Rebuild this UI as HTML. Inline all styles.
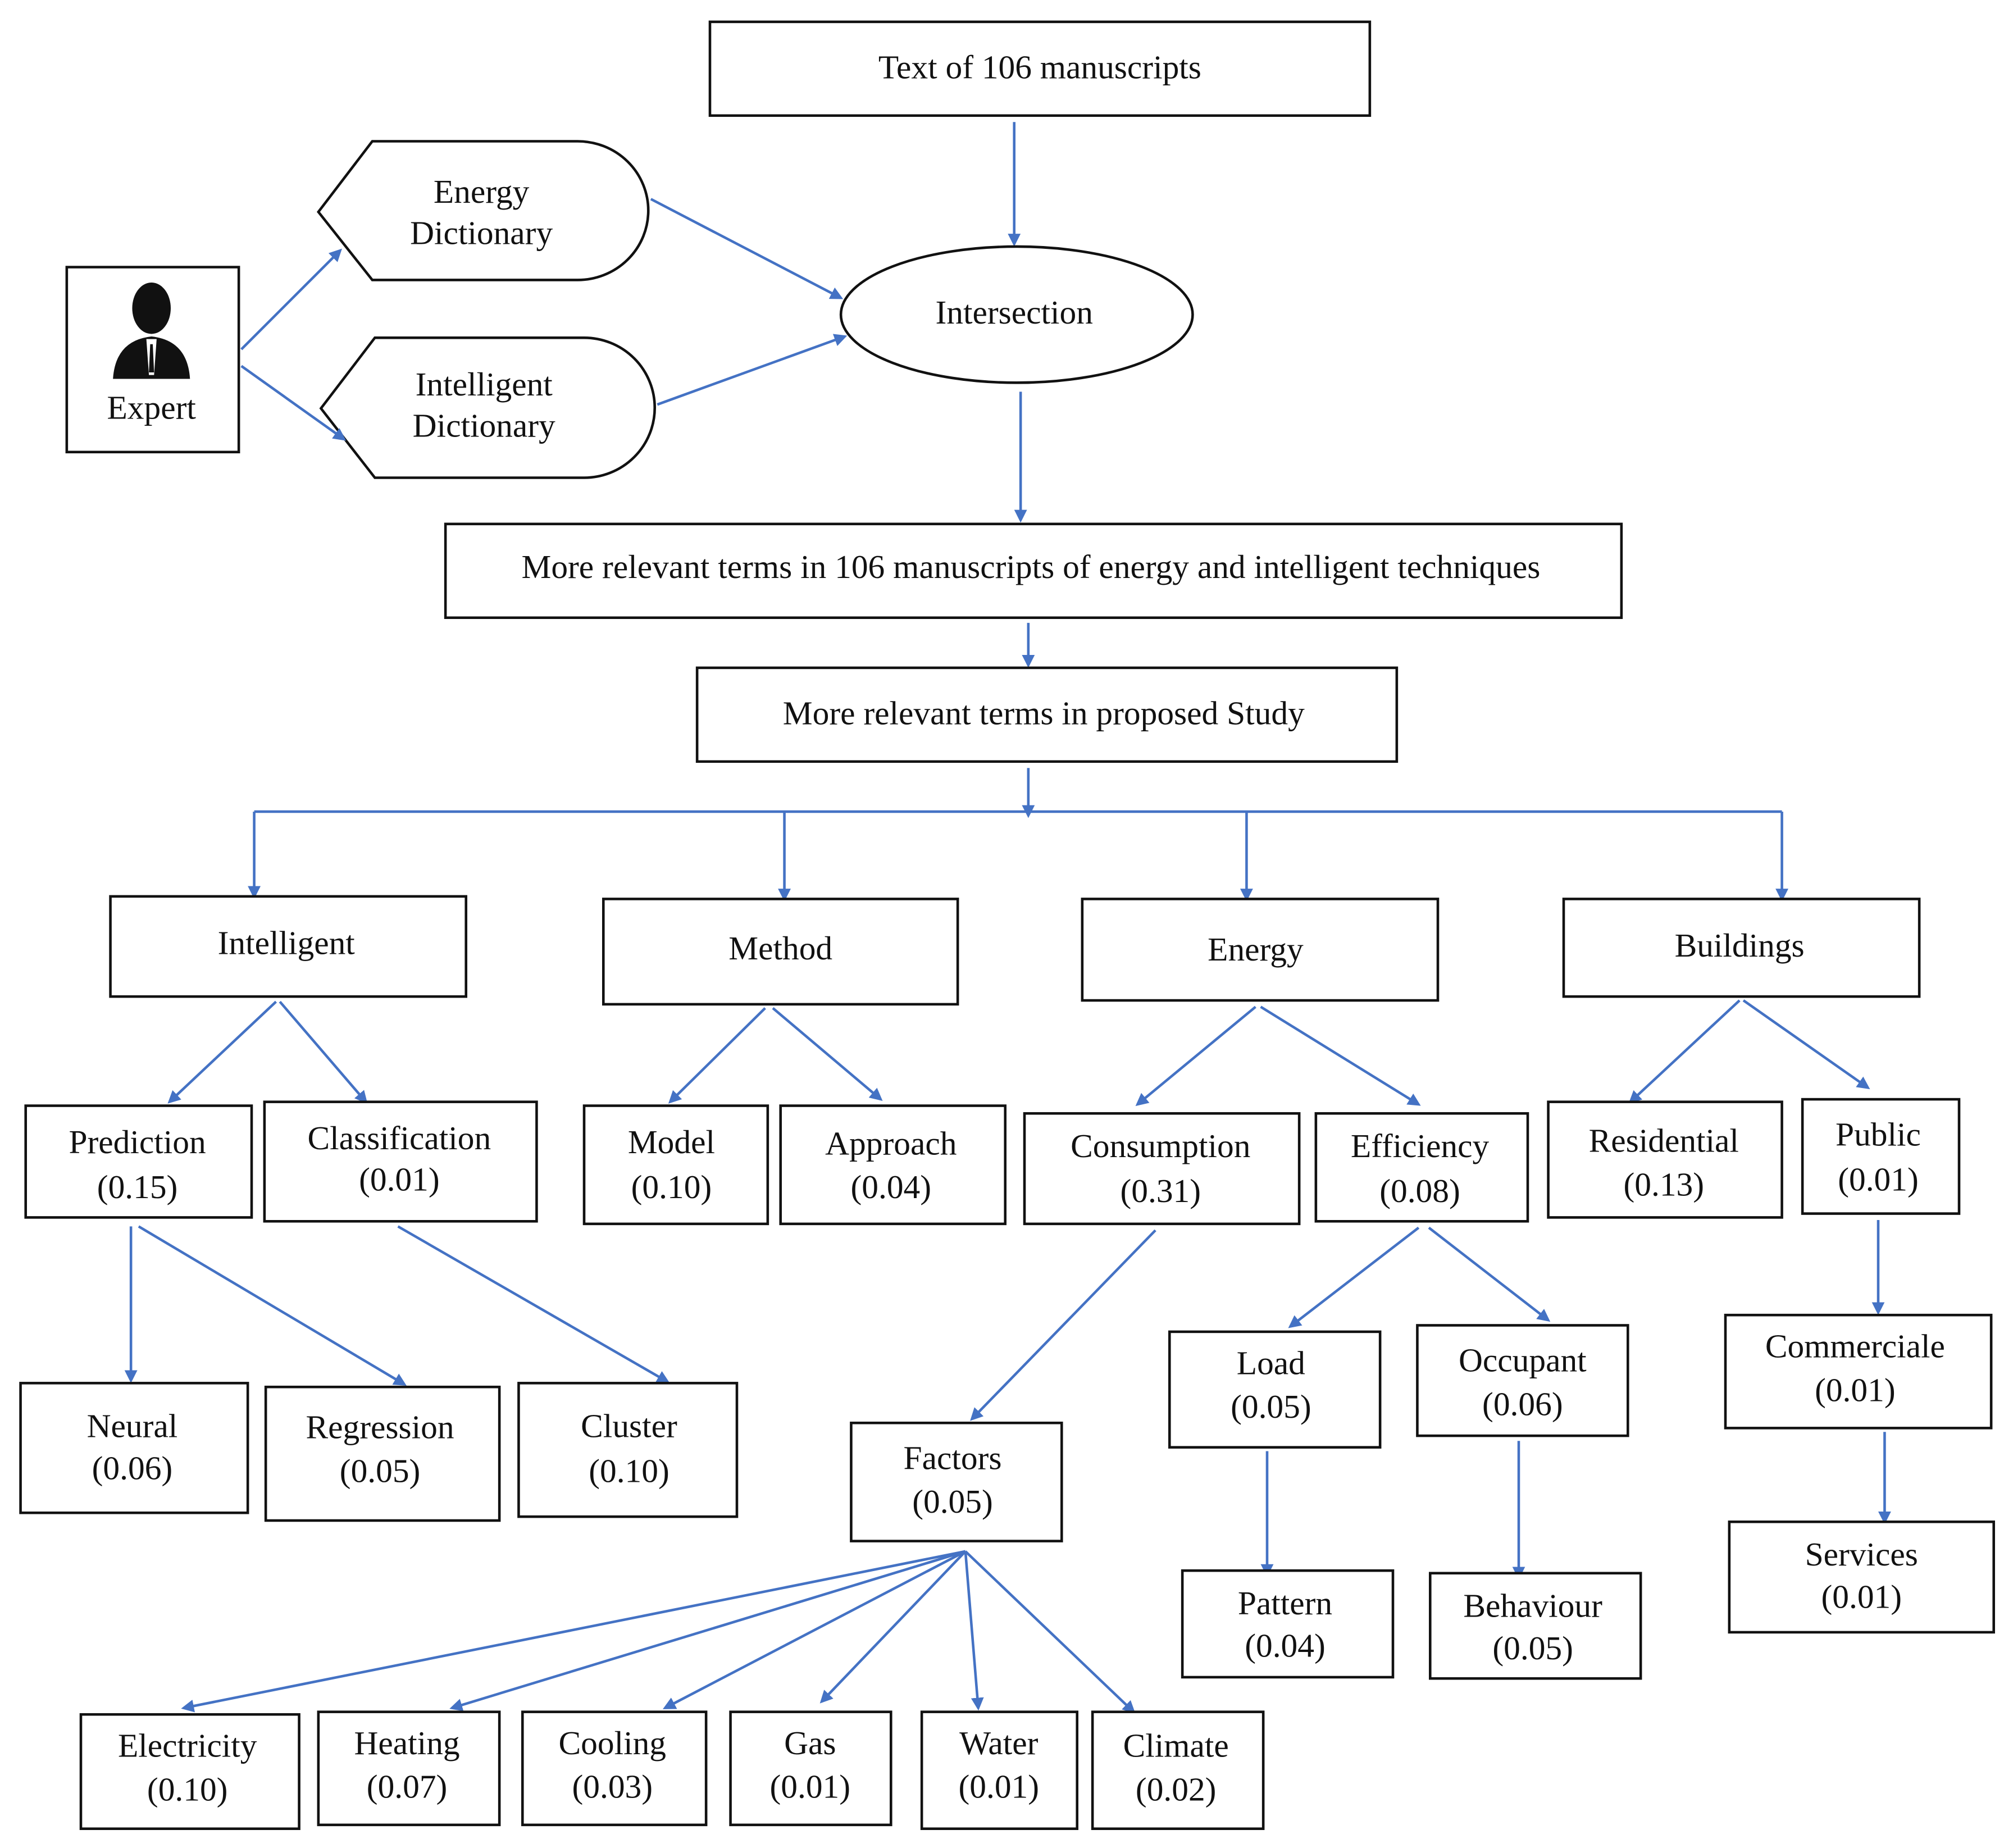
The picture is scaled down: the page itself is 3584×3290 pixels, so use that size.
<!DOCTYPE html>
<html><head><meta charset="utf-8">
<style>
html,body{margin:0;padding:0;background:#fff;}
svg{display:block;}
text{font-family:"Liberation Serif",serif;font-size:26px;fill:#111;text-anchor:middle;dominant-baseline:middle;}
.b{fill:#fff;stroke:#111;stroke-width:2;}
.l{stroke:#4472C4;stroke-width:2;fill:none;marker-end:url(#a);}
.n{stroke:#4472C4;stroke-width:2;fill:none;}
</style></head>
<body>
<svg width="3584" height="3290" viewBox="0 0 1568 1439" preserveAspectRatio="none" xmlns="http://www.w3.org/2000/svg">
<defs><marker id="a" markerWidth="10" markerHeight="10" refX="8" refY="5" orient="auto" markerUnits="userSpaceOnUse"><path d="M0,0 L10,5 L0,10 z" fill="#4472C4"/></marker></defs>
<rect width="1568" height="1439" fill="#fff"/>

<rect class="b" x="553" y="17" width="514" height="73"/><text x="810" y="55">Text of 106 manuscripts</text>
<line class="l" x1="790" y1="95" x2="790" y2="190"/>
<ellipse class="b" cx="792" cy="245" rx="137" ry="53"/><text x="790" y="246">Intersection</text>

<path class="b" d="M248,165 L290,110 L450,110 A55,54 0 0 1 450,218 L290,218 Z"/>
<text x="375" y="152">Energy</text><text x="375" y="184">Dictionary</text>
<path class="b" d="M250,318 L292,263 L455,263 A55,54.5 0 0 1 455,372 L292,372 Z"/>
<text x="377" y="302">Intelligent</text><text x="377" y="334">Dictionary</text>

<rect class="b" x="52" y="208" width="134" height="144"/>
<g fill="#111">
<ellipse cx="118" cy="240" rx="15" ry="20"/>
<path d="M88,295 Q90,265 118,262 Q146,265 148,295 Z"/>
</g>
<path d="M114,264 L122,264 L120,292 L116,292 Z" fill="#fff"/>
<path d="M117,268 L119,268 L120,290 L116,290 Z" fill="#111"/>
<text x="118" y="320">Expert</text>

<line class="l" x1="188" y1="272" x2="265" y2="195"/>
<line class="l" x1="188" y1="285" x2="268" y2="342"/>
<line class="l" x1="507" y1="155" x2="655" y2="232"/>
<line class="l" x1="512" y1="315" x2="658" y2="262"/>
<line class="l" x1="795" y1="305" x2="795" y2="405"/>

<rect class="b" x="347" y="408" width="916" height="73"/><text x="803" y="444">More relevant terms in 106 manuscripts of energy and intelligent techniques</text>
<line class="l" x1="801" y1="485" x2="801" y2="518"/>
<rect class="b" x="543" y="520" width="545" height="73"/><text x="813" y="558">More relevant terms in proposed Study</text>
<line class="l" x1="801" y1="598" x2="801" y2="635"/>
<line class="n" x1="198" y1="632" x2="1388" y2="632"/>
<line class="l" x1="198" y1="632" x2="198" y2="698"/>
<line class="l" x1="611" y1="632" x2="611" y2="700"/>
<line class="l" x1="971" y1="632" x2="971" y2="700"/>
<line class="l" x1="1388" y1="632" x2="1388" y2="700"/>

<rect class="b" x="86" y="698" width="277" height="78"/><text x="223" y="737">Intelligent</text>
<rect class="b" x="470" y="700" width="276" height="82"/><text x="608" y="741">Method</text>
<rect class="b" x="843" y="700" width="277" height="79"/><text x="978" y="742">Energy</text>
<rect class="b" x="1218" y="700" width="277" height="76"/><text x="1355" y="739">Buildings</text>

<line class="l" x1="215" y1="780" x2="132" y2="858"/>
<line class="l" x1="218" y1="780" x2="285" y2="858"/>
<line class="l" x1="596" y1="785" x2="522" y2="858"/>
<line class="l" x1="602" y1="785" x2="686" y2="856"/>
<line class="l" x1="978" y1="784" x2="886" y2="860"/>
<line class="l" x1="982" y1="784" x2="1105" y2="860"/>
<line class="l" x1="1355" y1="779" x2="1270" y2="858"/>
<line class="l" x1="1358" y1="779" x2="1455" y2="847"/>

<rect class="b" x="20" y="861" width="176" height="87"/><text x="107" y="892">Prediction</text><text x="107" y="927">(0.15)</text>
<rect class="b" x="206" y="858" width="212" height="93"/><text x="311" y="889">Classification</text><text x="311" y="921">(0.01)</text>
<rect class="b" x="455" y="861" width="143" height="92"/><text x="523" y="892">Model</text><text x="523" y="927">(0.10)</text>
<rect class="b" x="608" y="861" width="175" height="92"/><text x="694" y="893">Approach</text><text x="694" y="927">(0.04)</text>
<rect class="b" x="798" y="867" width="214" height="86"/><text x="904" y="895">Consumption</text><text x="904" y="930">(0.31)</text>
<rect class="b" x="1025" y="867" width="165" height="84"/><text x="1106" y="895">Efficiency</text><text x="1106" y="930">(0.08)</text>
<rect class="b" x="1206" y="858" width="182" height="90"/><text x="1296" y="891">Residential</text><text x="1296" y="925">(0.13)</text>
<rect class="b" x="1404" y="856" width="122" height="89"/><text x="1463" y="886">Public</text><text x="1463" y="921">(0.01)</text>

<line class="l" x1="102" y1="955" x2="102" y2="1075"/>
<line class="l" x1="108" y1="955" x2="315" y2="1078"/>
<line class="l" x1="310" y1="955" x2="520" y2="1076"/>
<line class="l" x1="900" y1="958" x2="757" y2="1105"/>
<line class="l" x1="1105" y1="956" x2="1005" y2="1033"/>
<line class="l" x1="1113" y1="956" x2="1206" y2="1028"/>
<line class="l" x1="1463" y1="950" x2="1463" y2="1022"/>

<rect class="b" x="16" y="1077" width="177" height="101"/><text x="103" y="1113">Neural</text><text x="103" y="1146">(0.06)</text>
<rect class="b" x="207" y="1080" width="182" height="104"/><text x="296" y="1114">Regression</text><text x="296" y="1148">(0.05)</text>
<rect class="b" x="404" y="1077" width="170" height="104"/><text x="490" y="1113">Cluster</text><text x="490" y="1148">(0.10)</text>
<rect class="b" x="663" y="1108" width="164" height="92"/><text x="742" y="1138">Factors</text><text x="742" y="1172">(0.05)</text>
<rect class="b" x="911" y="1037" width="164" height="90"/><text x="990" y="1064">Load</text><text x="990" y="1098">(0.05)</text>
<rect class="b" x="1104" y="1032" width="164" height="86"/><text x="1186" y="1062">Occupant</text><text x="1186" y="1096">(0.06)</text>
<rect class="b" x="1344" y="1024" width="207" height="88"/><text x="1445" y="1051">Commerciale</text><text x="1445" y="1085">(0.01)</text>

<line class="l" x1="987" y1="1130" x2="987" y2="1226"/>
<line class="l" x1="1183" y1="1122" x2="1183" y2="1228"/>
<line class="l" x1="1468" y1="1115" x2="1468" y2="1185"/>

<rect class="b" x="921" y="1223" width="164" height="83"/><text x="1001" y="1251">Pattern</text><text x="1001" y="1284">(0.04)</text>
<rect class="b" x="1114" y="1225" width="164" height="82"/><text x="1194" y="1253">Behaviour</text><text x="1194" y="1286">(0.05)</text>
<rect class="b" x="1347" y="1185" width="206" height="86"/><text x="1450" y="1213">Services</text><text x="1450" y="1246">(0.01)</text>

<line class="l" x1="752" y1="1208" x2="143" y2="1330"/>
<line class="l" x1="752" y1="1208" x2="352" y2="1330"/>
<line class="l" x1="752" y1="1208" x2="518" y2="1330"/>
<line class="l" x1="752" y1="1208" x2="640" y2="1325"/>
<line class="l" x1="752" y1="1208" x2="762" y2="1330"/>
<line class="l" x1="752" y1="1208" x2="883" y2="1333"/>

<rect class="b" x="63" y="1335" width="170" height="89"/><text x="146" y="1362">Electricity</text><text x="146" y="1396">(0.10)</text>
<rect class="b" x="248" y="1333" width="141" height="88"/><text x="317" y="1360">Heating</text><text x="317" y="1394">(0.07)</text>
<rect class="b" x="407" y="1333" width="143" height="88"/><text x="477" y="1360">Cooling</text><text x="477" y="1394">(0.03)</text>
<rect class="b" x="569" y="1333" width="125" height="88"/><text x="631" y="1360">Gas</text><text x="631" y="1394">(0.01)</text>
<rect class="b" x="718" y="1333" width="121" height="91"/><text x="778" y="1360">Water</text><text x="778" y="1394">(0.01)</text>
<rect class="b" x="851" y="1333" width="133" height="91"/><text x="916" y="1362">Climate</text><text x="916" y="1396">(0.02)</text>
</svg>
</body></html>
